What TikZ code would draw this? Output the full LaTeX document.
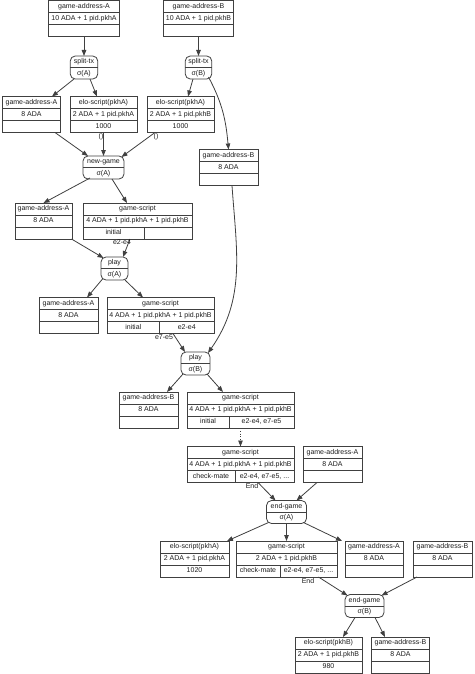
\documentclass[tikz,border=0pt]{standalone}
\usepackage{fontspec}
\setmainfont{Liberation Sans}
\usetikzlibrary{arrows.meta,calc}
\definecolor{ln}{RGB}{64,64,64}
\definecolor{tx}{RGB}{30,30,30}
\tikzset{
  recbox/.style={draw=ln, line width=0.8pt, minimum height=36pt, inner sep=0pt, outer sep=0pt},
  rndbox/.style={draw=ln, line width=0.8pt, rounded corners=5pt, minimum height=23pt, inner sep=0pt, outer sep=0pt},
  rline/.style={draw=ln, line width=0.8pt},
  txt/.style={font=\fontsize{7.0}{8.4}\selectfont, text=tx, inner sep=0pt, text height=5.1pt, text depth=1.4pt},
  edge/.style={draw=ln, line width=0.8pt, -{Triangle[length=6pt,width=4.5pt]}},
  dotedge/.style={edge, dotted},
}
\newcommand\recnode[7]{%
  \node[recbox, minimum width=#4pt] (#1) at (#2,#3) {};
  \draw[rline] ([yshift=6pt]#1.west) -- ([yshift=6pt]#1.east);
  \draw[rline] ([yshift=-6pt]#1.west) -- ([yshift=-6pt]#1.east);
  \node[txt] (#1-a) at ([yshift=12pt]#1.center) {#5};
  \node[txt] (#1-b) at (#1.center) {#6};
  \node[txt] (#1-c) at ([yshift=-12pt]#1.center) {#7};
}
\newcommand\recsplit[9]{%
  \node[recbox, minimum width=#4pt] (#1) at (#2,#3) {};
  \draw[rline] ([yshift=6pt]#1.west) -- ([yshift=6pt]#1.east);
  \draw[rline] ([yshift=-6pt]#1.west) -- ([yshift=-6pt]#1.east);
  \draw[rline] (#1.south -| #7,0) -- ([yshift=-6pt]#1.west -| #7,0);
  \node[txt] (#1-a) at ([yshift=12pt]#1.center) {#5};
  \node[txt] (#1-b) at (#1.center) {#6};
  \pgfmathsetmacro\lcx{(#2-#4/2+#7)/2}
  \pgfmathsetmacro\rcx{(#2+#4/2+#7)/2}
  \node[txt] (#1-c) at ([yshift=-12pt]#1.center -| \lcx,0) {#8};
  \node[txt] (#1-d) at ([yshift=-12pt]#1.center -| \rcx,0) {#9};
}
\newcommand\rnd[6]{%
  \node[rndbox, minimum width=#4pt] (#1) at (#2,#3) {};
  \draw[rline] (#1.west) -- (#1.east);
  \node[txt] (#1-a) at ([yshift=5.75pt]#1.center) {#5};
  \node[txt] (#1-b) at ([yshift=-5.75pt]#1.center) {#6};
}
\begin{document}
\begin{tikzpicture}[x=1pt,y=-1pt]
\useasboundingbox[fill=white] (0,0) rectangle (474,674);
% row 1
\recnode{gaA}{84}{18.5}{71}{game-address-A}{10 ADA + 1 pid.pkhA}{}
\recnode{gaB}{198.5}{18.5}{70}{game-address-B}{10 ADA + 1 pid.pkhB}{}
\rnd{splitA}{84}{67.5}{27.5}{split-tx}{σ(A)}
\rnd{splitB}{198.5}{67.5}{26.5}{split-tx}{σ(B)}
% row 2
\recnode{gaA2}{31.5}{114.5}{58}{game-address-A}{8 ADA}{}
\recnode{eloA}{103.5}{114.5}{67}{elo-script(pkhA)}{2 ADA + 1 pid.pkhA}{1000}
\recnode{eloB}{180.5}{114.5}{67}{elo-script(pkhA)}{2 ADA + 1 pid.pkhB}{1000}
\recnode{gaB2}{228.5}{167.5}{59}{game-address-B}{8 ADA}{}
\rnd{newgame}{103.5}{167.5}{41}{new-game}{σ(A)}
% row 3
\recnode{gaA3}{43.5}{221}{57}{game-address-A}{8 ADA}{}
\recsplit{gs1}{137.5}{221}{109}{game-script}{4 ADA + 1 pid.pkhA + 1 pid.pkhB}{144}{initial}{}
\rnd{playA}{114.5}{268.5}{27}{play}{σ(A)}
% row 4
\recnode{gaA4}{68.5}{315.5}{59}{game-address-A}{8 ADA}{}
\recsplit{gs2}{160.5}{315.5}{107}{game-script}{4 ADA + 1 pid.pkhA + 1 pid.pkhB}{159.5}{initial}{e2-e4}
\rnd{playB}{195.5}{363.5}{29}{play}{σ(B)}
% row 5
\recnode{gaB5}{148.5}{410}{59}{game-address-B}{8 ADA}{}
\recsplit{gs3}{240.5}{410}{107}{game-script}{4 ADA + 1 pid.pkhA + 1 pid.pkhB}{229}{initial}{e2-e4, e7-e5}
% row 6
\recsplit{gs4}{240.5}{464.5}{107}{game-script}{4 ADA + 1 pid.pkhA + 1 pid.pkhB}{235}{check-mate}{e2-e4, e7-e5, ...}
\recnode{gaA6}{332.5}{464.5}{59}{game-address-A}{8 ADA}{}
\rnd{egA}{286.5}{512}{40}{end-game}{σ(A)}
% row 7
\recnode{eloA7}{194.5}{559}{69}{elo-script(pkhA)}{2 ADA + 1 pid.pkhA}{1020}
\recsplit{gs5}{286.5}{559}{101}{game-script}{2 ADA + 1 pid.pkhB}{280}{check-mate}{e2-e4, e7-e5, ...}
\recnode{gaA7}{374}{559}{58}{game-address-A}{8 ADA}{}
\recnode{gaB7}{442.5}{559}{59}{game-address-B}{8 ADA}{}
\rnd{egB}{364.5}{606}{39}{end-game}{σ(B)}
% row 8
\recnode{eloB8}{328.5}{655}{67}{elo-script(pkhB)}{2 ADA + 1 pid.pkhB}{980}
\recnode{gaB8}{400.5}{655}{58}{game-address-B}{8 ADA}{}
% edges
\draw[edge] (gaA) -- (splitA);
\draw[edge] (gaB) -- (splitB);
\draw[edge] ([xshift=-10pt]splitA.south) -- ([xshift=20.5pt]gaA2.north);
\draw[edge] ([xshift=6pt]splitA.south) -- ([xshift=-6.5pt]eloA.north);
\draw[edge] ([xshift=-5.5pt]splitB.south) -- ([xshift=7.5pt]eloB.north);
\draw[edge] ([xshift=10pt,yshift=2pt]splitB.south) to[out=-62,in=95] (gaB2.north);
\draw[edge] ([xshift=23.5pt]gaA2.south) -- ([xshift=-15.5pt]newgame.north);
\draw[edge] (eloA.south) -- (newgame.north);
\draw[edge] ([xshift=-25.5pt]eloB.south) -- ([xshift=18pt,yshift=-1pt]newgame.north);
\node[txt] (lblA) at (101,137) {()};
\node[txt] (lblB) at (156,137) {()};
\draw[edge] ([xshift=-13.5pt,yshift=1pt]newgame.south) -- (gaA3.north);
\draw[edge] ([xshift=8.5pt]newgame.south) -- ([xshift=-10.5pt]gs1.north);
\draw[edge] ([xshift=28pt]gaA3.south) -- ([xshift=-11pt,yshift=-1pt]playA.north);
\draw[edge] ([xshift=-7.5pt]gs1.south) -- ([xshift=8.5pt]playA.north);
\node[txt] (lbl1) at (122,243) {e2-e4};
\draw[edge] ([xshift=-12pt,yshift=1pt]playA.south) -- ([xshift=18.5pt]gaA4.north);
\draw[edge] ([xshift=10.5pt]playA.south) -- ([xshift=-17.5pt]gs2.north);
\draw[edge] ([xshift=12.5pt]gs2.south) -- ([xshift=-10.5pt]playB.north);
\node[txt] (lbl2) at (164,338) {e7-e5};
\draw[edge] ([xshift=3.5pt]gaB2.south) to[out=-86,in=55] ([xshift=12.5pt,yshift=-1pt]playB.north);
\draw[edge] ([xshift=-12.5pt,yshift=1pt]playB.south) -- ([xshift=18.5pt]gaB5.north);
\draw[edge] ([xshift=11.5pt,yshift=1pt]playB.south) -- ([xshift=-17.5pt]gs3.north);
\draw[dotedge] (gs3.south) -- (gs4.north);
\draw[edge] ([xshift=17.5pt]gs4.south) -- ([xshift=-11pt]egA.north);
\node[txt] (lbl3) at (252,487) {End};
\draw[edge] ([xshift=-15.5pt]gaA6.south) -- ([xshift=10pt]egA.north);
\draw[edge] ([xshift=-18pt,yshift=1pt]egA.south) -- ([xshift=32.5pt]eloA7.north);
\draw[edge] (egA.south) -- (gs5.north);
\draw[edge] ([xshift=17pt,yshift=1pt]egA.south) -- ([xshift=-32pt]gaA7.north);
\draw[edge] ([xshift=32pt]gs5.south) -- ([xshift=-17pt,yshift=-1pt]egB.north);
\node[txt] (lbl4) at (308,582) {End};
\draw[edge] ([xshift=-25.5pt]gaB7.south) -- ([xshift=17pt,yshift=-1pt]egB.north);
\draw[edge] ([xshift=-9.5pt]egB.south) -- ([xshift=14.5pt]eloB8.north);
\draw[edge] ([xshift=10.5pt]egB.south) -- ([xshift=-15.5pt]gaB8.north);
\end{tikzpicture}
\end{document}
